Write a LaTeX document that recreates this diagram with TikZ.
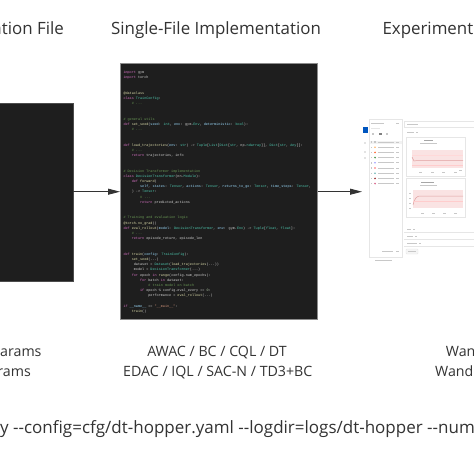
\documentclass[tikz,border=0pt]{standalone}
\usepackage{fontspec}
\usetikzlibrary{arrows.meta}
\newfontfamily\osans{Open Sans}
\newfontfamily\cmono{Liberation Mono}
\definecolor{codebg}{HTML}{1E1E1E}
\definecolor{codefg}{HTML}{D4D4D4}
\definecolor{ckwc}{HTML}{D36FC0}
\definecolor{cfnc}{HTML}{DCDCAA}
\definecolor{ctyc}{HTML}{4EC9B0}
\definecolor{ccmc}{HTML}{6A9955}
\definecolor{cpac}{HTML}{9CDCFE}
\definecolor{cstc}{HTML}{CE9178}
\definecolor{cnumc}{HTML}{B5CEA8}
\definecolor{txt}{HTML}{333333}
\definecolor{uigrey}{HTML}{E6E6E6}
\definecolor{uitext}{HTML}{C8C8C8}
\definecolor{bandpink}{HTML}{FAE3E3}
\definecolor{linered}{HTML}{E0A0A0}
\newcommand\ckw[1]{\textcolor{ckwc}{#1}}
\newcommand\cfn[1]{\textcolor{cfnc}{#1}}
\newcommand\cty[1]{\textcolor{ctyc}{#1}}
\newcommand\ccm[1]{\textcolor{ccmc}{#1}}
\newcommand\cpa[1]{\textcolor{cpac}{#1}}
\newcommand\cstr[1]{\textcolor{cstc}{#1}}
\newcommand\cnum[1]{\textcolor{cnumc}{#1}}
\newlength\cwid
\setlength\cwid{2.076pt}
\newcommand\ind[1]{\hspace*{#1\cwid}}
\tikzset{
  title/.style={font=\osans\fontsize{16.9}{20}\selectfont, text=txt, inner sep=0pt},
  label/.style={font=\osans\fontsize{14.2}{17}\selectfont, text=txt, inner sep=0pt},
  cmdlabel/.style={font=\osans\fontsize{17}{20}\selectfont, text=txt, inner sep=0pt},
  conn/.style={draw=txt, line width=0.8pt, -{Triangle[length=12pt,width=6pt]}},
}
\begin{document}
\begin{tikzpicture}[x=1pt,y=-1pt]
\useasboundingbox (0,0) rectangle (474,474);
\clip (0,0) rectangle (474,474);
\fill[white] (0,0) rectangle (474,474);
% titles
\node[title, anchor=base east] (t1) at (64,34.5) {ation File};
\node[title, anchor=base] (t2) at (216,34.5) {Single-File Implementation};
\node[title, anchor=base west] (t3) at (382.3,34.5) {Experiment};
% left dark box
\node[draw=black!70, fill=codebg, line width=0.5pt, minimum width=80pt, minimum height=178pt, inner sep=0pt, anchor=north east] (cfg) at (73,103) {};
% code box
\node[draw=black!45, fill=codebg, line width=0.6pt, minimum width=197pt, minimum height=256pt, inner sep=0pt, anchor=north west] (code) at (120,63) {};
\node[anchor=north west, inner sep=0pt, align=left, text=codefg, font=\cmono\fontsize{3.46}{5.19}\selectfont] (src) at (123.3,70.9) {%
\ckw{import} gym\\
\ckw{import} torch\\
\mbox{}\\
\mbox{}\\
\cfn{@dataclass}\\
\ckw{class} \cty{TrainConfig}:\\
\ind4\ccm{\# ...}\\
\mbox{}\\
\mbox{}\\
\ccm{\# general utils}\\
\ckw{def} \cfn{set\_seed}(\cpa{seed}: \cty{int}, \cpa{env}: gym.\cty{Env}, \cpa{deterministic}: \cty{bool}):\\
\ind4\ccm{\# ...}\\
\mbox{}\\
\mbox{}\\
\ckw{def} \cfn{load\_trajectories}(\cpa{env}: \cty{str}) -> \cty{Tuple}[\cty{List}[\cty{Dict}[\cty{str}, np.\cty{ndarray}]], \cty{Dict}[\cty{str}, \cty{Any}]]:\\
\ind4\ccm{\# ...}\\
\ind4\ckw{return} trajectories, info\\
\mbox{}\\
\mbox{}\\
\ccm{\# Decision Transformer implementation}\\
\ckw{class} \cty{DecisionTransformer}(nn.\cty{Module}):\\
\ind4\ckw{def} \cfn{forward}(\\
\ind8\cpa{self}, \cpa{states}: \cty{Tensor}, \cpa{actions}: \cty{Tensor}, \cpa{returns\_to\_go}: \cty{Tensor}, \cpa{time\_steps}: \cty{Tensor},\\
\ind4) -> \cty{Tensor}:\\
\ind8\ccm{\# ...}\\
\ind8\ckw{return} predicted\_actions\\
\mbox{}\\
\mbox{}\\
\ccm{\# Training and evaluation logic}\\
\cfn{@torch.no\_grad}()\\
\ckw{def} \cfn{eval\_rollout}(\cpa{model}: \cty{DecisionTransformer}, \cpa{env}: gym.\cty{Env}) -> \cty{Tuple}[\cty{float}, \cty{float}]:\\
\ind4\ccm{\# ...}\\
\ind4\ckw{return} episode\_return, episode\_len\\
\mbox{}\\
\mbox{}\\
\ckw{def} \cfn{train}(\cpa{config}: \cty{TrainConfig}):\\
\ind4\cfn{set\_seed}(...)\\
\ind4 dataset = \cty{Dataset}(\cfn{load\_trajectories}(...))\\
\ind4 model = \cty{DecisionTransformer}(...)\\
\ind4\ckw{for} epoch \ckw{in} \cfn{range}(config.num\_epochs):\\
\ind8\ckw{for} batch \ckw{in} dataset:\\
\ind{12}\ccm{\# train model on batch}\\
\ind8\ckw{if} epoch \% config.eval\_every == \cnum{0}:\\
\ind{12}performance = \cfn{eval\_rollout}(...)\\
\mbox{}\\
\ckw{if} \cpa{\_\_name\_\_} == \cstr{"\_\_main\_\_"}:\\
\ind4\cfn{train}()};
% screenshot mockup
\node[fill=white, minimum width=112pt, minimum height=146pt, inner sep=0pt, anchor=north west] (shot) at (362,117) {};
\begin{scope}
% icon sidebar
\fill[blue!55!cyan!75!black] (362.5,127) rectangle (367.5,132.5);
\foreach \yy in {143,152,158} \fill[uitext] (365,\yy) circle (0.9);
% runs panel
\draw[uigrey, line width=0.4pt] (369,119) rectangle (402.5,257);
\fill[uitext] (371,122.5) rectangle (384,124);
\fill[uitext] (396,122.5) rectangle (399,124);
\fill[uigrey] (371,127.5) rectangle (380,129);
\fill[uitext] (372,133) rectangle (374,135);
\fill[black!50] (379,132.5) rectangle (382,135);
\fill[uitext] (386,133) rectangle (388,135);
\fill[black!5] (369.5,140.5) rectangle (402,143.8);
\foreach \i/\cc in {0/black!40,1/orange!60,2/orange!50!red!80,3/green!40!black!70,4/blue!40,5/red!60,6/teal!60,7/red!50!black!80,8/purple!60} {
  \pgfmathsetmacro\ry{142+\i*5.2}
  \fill[uitext] (371,\ry-0.7) rectangle (372.4,\ry+0.7);
  \fill[\cc] (375,\ry) circle (0.9);
  \fill[uitext] (378,\ry-0.5) rectangle (394,\ry+0.5);
  \fill[uitext] (396,\ry-0.5) rectangle (399,\ry+0.5);
}
\fill[uitext] (382,250.5) rectangle (393,251.6);
\fill[uitext] (396,250.5) rectangle (399,251.6);
\fill[uitext] (375,259.5) rectangle (392,260.6);
% main panel
\draw[uigrey, line width=0.4pt] (404,121) rectangle (480,127);
\fill[uitext] (407,123.5) rectangle (418,124.5);
\fill[uitext] (407,131.5) rectangle (414,132.8);
\fill[uitext] (416,131.5) rectangle (418,132.8);
% chart 1
\draw[uigrey, line width=0.4pt] (406,137) rectangle (465,176);
\fill[black!35] (424,140) rectangle (433,141.3);
\fill[uitext] (420,142.8) rectangle (437,143.6);
\fill[bandpink] (412,150) rectangle (463,168);
\draw[red!15, line width=0.3pt] (412,155) -- (463,155);
\draw[linered, line width=0.5pt] (412,157) -- (414,161) -- (417,160.5) -- (463,160.5);
\draw[red!20, line width=0.3pt] (412,165) -- (463,165);
\foreach \xx in {419,431,442,454} \fill[uitext] (\xx,171.5) rectangle (\xx+3,172.5);
\fill[uitext] (459,169.5) rectangle (462,170.4);
% chart 2
\draw[uigrey, line width=0.4pt] (406,178) rectangle (465,217);
\fill[black!35] (421,182) rectangle (434,183.3);
\fill[uitext] (420,184.8) rectangle (437,185.6);
\fill[bandpink] (413,190) rectangle (463,208);
\draw[linered, line width=0.5pt] (413,205) .. controls (415,197) and (417,196) .. (421,196) -- (463,196);
\draw[red!20, line width=0.3pt] (413,201) -- (463,201);
\foreach \yy in {193,198,203,208} \fill[uitext] (409,\yy-0.4) rectangle (411,\yy+0.4);
\foreach \xx in {421,432,443,454} \fill[uitext] (\xx,212.5) rectangle (\xx+3,213.5);
% sections
\foreach \yy/\ww in {229/4,236/6,243/10} {
  \draw[uigrey, line width=0.3pt] (404,\yy+3) -- (474,\yy+3);
  \fill[uitext] (407,\yy-0.5) rectangle (407+\ww,\yy+0.5);
  \fill[uitext] (409+\ww,\yy-0.5) rectangle (410.5+\ww,\yy+0.5);
}
\draw[uigrey, fill=black!4, line width=0.3pt, rounded corners=0.8pt] (406,249) rectangle (418,254);
\fill[uitext] (408,251) rectangle (416,252);
\end{scope}
% arrows
\draw[conn] (cfg.east |- 0,191.7) -- (code.west |- 0,191.7);
\draw[conn] (code.east |- 0,191.7) -- (shot.west |- 0,191.7);
% bottom labels
\node[label, anchor=base east] (l1a) at (41.7,356) {arams};
\node[label, anchor=base east] (l1b) at (31,376.7) {rams};
\node[label, anchor=base] (l2a) at (217,356) {AWAC / BC / CQL / DT};
\node[label, anchor=base] (l2b) at (217.8,376.7) {EDAC / IQL / SAC-N / TD3+BC};
\node[label, anchor=base west] (l3a) at (445.7,356) {Wan};
\node[label, anchor=base west] (l3b) at (435,376.7) {Wand};
\node[cmdlabel, anchor=base west] (cmd) at (0,433) {y --config=cfg/dt-hopper.yaml --logdir=logs/dt-hopper --num};
\end{tikzpicture}
\end{document}
